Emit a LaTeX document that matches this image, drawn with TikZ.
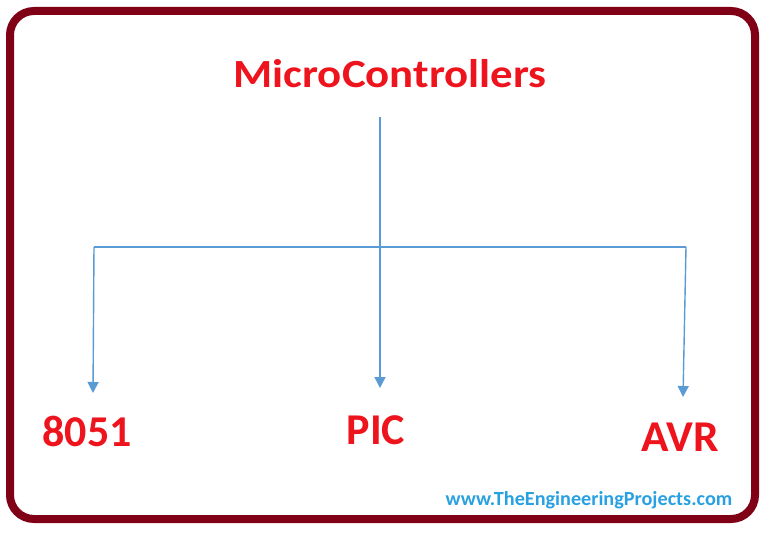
\documentclass[tikz,border=0pt]{standalone}
\usepackage{fontspec}
\setmainfont{Carlito}
\usetikzlibrary{arrows.meta}
\definecolor{frame}{RGB}{128,0,22}
\definecolor{txtred}{RGB}{238,20,30}
\definecolor{arrblue}{RGB}{91,155,213}
\definecolor{urlblue}{RGB}{40,160,225}
\tikzset{
  lbl/.style={text=txtred, font=\bfseries\fontsize{44}{48}\selectfont, inner sep=0pt, anchor=base},
  conn/.style={draw=arrblue, line width=1.4pt},
  arr/.style={conn, -{Triangle[length=11pt,width=11pt]}},
}
\begin{document}
\begin{tikzpicture}[x=1pt,y=-1pt]
\useasboundingbox (0,0) rectangle (768,534);
\fill[white] (0,0) rectangle (768,534);
\draw[frame, line width=8pt, rounded corners=24pt] (10,11) rectangle (755,519);
\node[lbl, font=\bfseries\fontsize{40}{44}\selectfont] (mc) at (390,88) {\scalebox{1.12}[1]{MicroControllers}};
\node[lbl] (a) at (87,446) {8051};
\node[lbl] (p) at (376,444) {PIC};
\node[lbl] (v) at (680,451) {\scalebox{1.03}[1]{AVR}};
\node[text=urlblue, font=\bfseries\fontsize{20}{22}\selectfont, inner sep=0pt, anchor=base] (url) at (589,505) {\scalebox{1.01}[1]{www.TheEngineeringProjects.com}};
\coordinate (top) at (380,117);
\coordinate (j) at (380,247);
\coordinate (l) at (94,247);
\coordinate (r) at (686,247);
\coordinate (lt) at (93,393);
\coordinate (mt) at (380,388);
\coordinate (rt) at (683,397);
\draw[conn] (top) -- (j);
\draw[conn] (l) -- (r);
\draw[arr] (l) -- (lt);
\draw[arr] (j) -- (mt);
\draw[arr] (r) -- (rt);
\end{tikzpicture}
\end{document}
